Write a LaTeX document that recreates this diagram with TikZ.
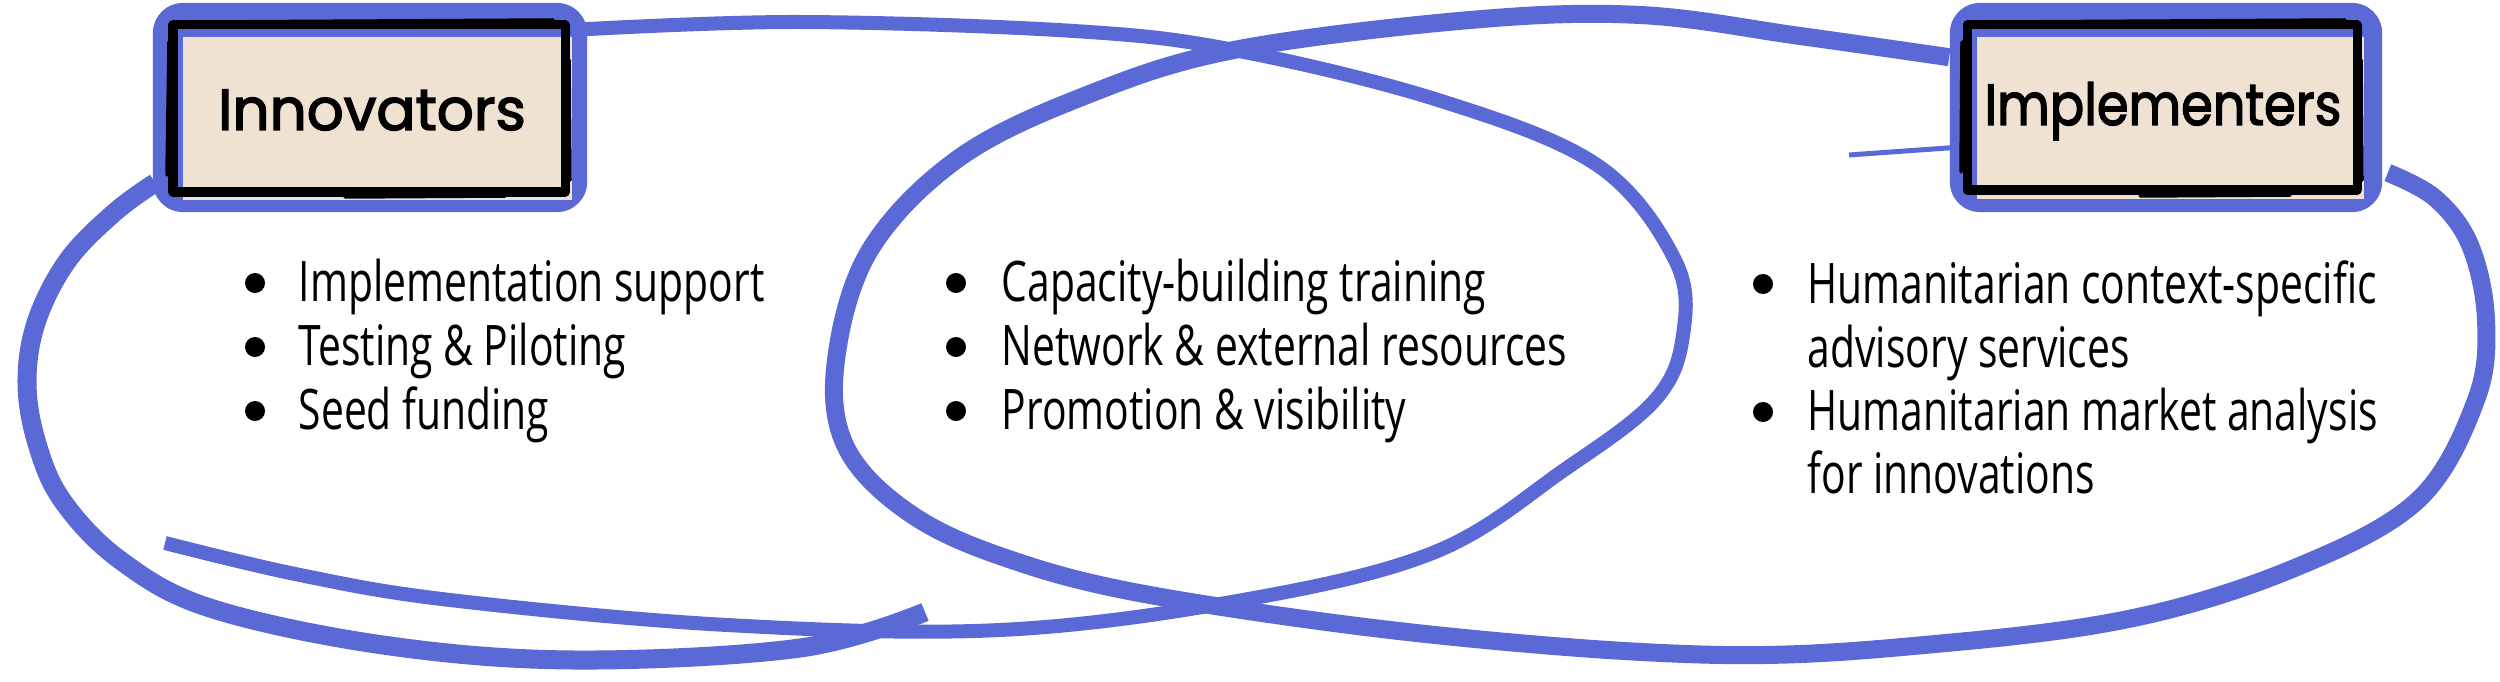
\documentclass[tikz,border=0pt]{standalone}
\usepackage{fontspec}
\setmainfont{Open Sans}
\newfontfamily\bodyfont[FakeStretch=0.73]{Open Sans}
\newfontfamily\labelfont[FakeBold=2.5]{Poppins}
\usetikzlibrary{calc}
\definecolor{loopblue}{HTML}{5A69D5}
\definecolor{boxbeige}{HTML}{EFE2D2}
\begin{document}
\begin{tikzpicture}[x=0.01cm,y=-0.01cm,
  loopline/.style={draw=loopblue, line join=round},
  bluebox/.style={fill=loopblue, draw=none, rounded corners=0.3cm, minimum width=4.34cm, minimum height=2.09cm, inner sep=0},
  beigefill/.style={fill=boxbeige, draw=none},
  blackframe/.style={draw=black, line width=0.09cm, line join=round},
  sketchline/.style={draw=black, line width=0.035cm, line cap=round},
  label/.style={font=\labelfont\fontsize{16.5pt}{20pt}\selectfont, inner sep=0, anchor=base},
  item/.style={font=\bodyfont\fontsize{15.9pt}{19pt}\selectfont, inner sep=0, anchor=base west},
  dot/.style={circle, fill=black, draw=none, inner sep=0, minimum size=0.2cm}
]
\useasboundingbox (0,0) rectangle (2500,682);

% box backgrounds (blue)
\node[bluebox] (innblue) at (370,107.5) {};
\node[bluebox, minimum width=4.32cm] (impblue) at (2166,107.5) {};

% anchors for the loops
\coordinate (s1start) at ($(innblue.north east)+(-3,27)$);
\coordinate (s2start) at ($(innblue.south west)+(3,-30)$);
\coordinate (s3start) at ($(impblue.north west)+(0,55)$);
\coordinate (s3end) at ($(impblue.south east)+(5,-40)$);
\coordinate (s4start) at ($(impblue.west)+(5,40)$);
\coordinate (s1end) at (165,543);
\coordinate (s2end) at (925,612);
\coordinate (s4end) at (1849,155);

% Innovators loop: top, right side of middle ellipse, bottom
\draw[loopline, line width=0.14cm] plot[smooth, tension=0.6] coordinates {
  (s1start) (800,22) (1074,31) (1234,50) (1438,100) (1597,165) (1675,260)
  (1683,335) (1655,400) (1564,470) (1435,552) (1243,600) (1000,630) (727,625)
  (450,600) (300,575) (s1end)};
% Innovators loop: left side and bottom ending with wedge
\draw[loopline, line width=0.19cm] plot[smooth, tension=0.6] coordinates {
  (s2start) (115,212) (68,260) (37,320) (27,380) (36,440) (62,500) (120,560)
  (210,608) (383,645) (574,660) (800,648) (s2end)};
% Implementers loop
\draw[loopline, line width=0.18cm] plot[smooth, tension=0.6] coordinates {
  (s3start) (1800,36) (1640,15) (1470,20) (1234,50) (1087,95) (959,158)
  (870,250) (836,360) (845,445) (905,510) (1000,556) (1150,595) (1435,635)
  (1723,655) (1946,643) (2138,617) (2297,567) (2418,500) (2476,400)
  (2486,320) (2470,245) (2435,198) (s3end)};
% short stroke into Implementers box
\draw[loopline, line width=0.05cm] (s4end) -- (s4start);

% Innovators box
\fill[beigefill] (183,37) rectangle (572,200);
\draw[blackframe] (173,25) rectangle (565,192);
\draw[sketchline] (203,22) -- (553,20);
\draw[sketchline] (169,42) -- (167,175);
\draw[sketchline] (345,197) -- (505,196);
\draw[sketchline] (569,60) -- (570,180);
\node[label] (innlabel) at (372,130) {Innovators};

% Implementers box
\fill[beigefill] (1977,37) rectangle (2364,199);
\draw[blackframe] (1967,25) rectangle (2357,190);
\draw[sketchline] (1997,22) -- (2345,20);
\draw[sketchline] (1962,42) -- (1961,172);
\draw[sketchline] (2140,196) -- (2290,195);
\draw[sketchline] (2361,60) -- (2362,180);
\node[label] (implabel) at (2163,125) {\scalebox{0.88}[1]{Implementers}};

% Column 1
\node[dot] (b11) at (255,283) {};
\node[dot] (b12) at (255,347) {};
\node[dot] (b13) at (255,411) {};
\node[item] (t11) at (298,301) {Implementation support};
\node[item] (t12) at (298,365) {Testing \& Piloting};
\node[item] (t13) at (298,429) {Seed funding};

% Column 2
\node[dot] (b21) at (956,283) {};
\node[dot] (b22) at (956,347) {};
\node[dot] (b23) at (956,411) {};
\node[item] (t21) at (1001,301) {Capacity-building training};
\node[item] (t22) at (1001,365) {Network \& external resources};
\node[item] (t23) at (1001,429) {Promotion \& visibility};

% Column 3
\node[dot] (b31) at (1763,284) {};
\node[dot] (b32) at (1763,412) {};
\node[item] (t31) at (1807,304) {Humanitarian context-specific};
\node[item] (t32) at (1807,367) {advisory services};
\node[item] (t33) at (1807,430) {Humanitarian market analysis};
\node[item] (t34) at (1807,493) {for innovations};
\end{tikzpicture}
\end{document}
